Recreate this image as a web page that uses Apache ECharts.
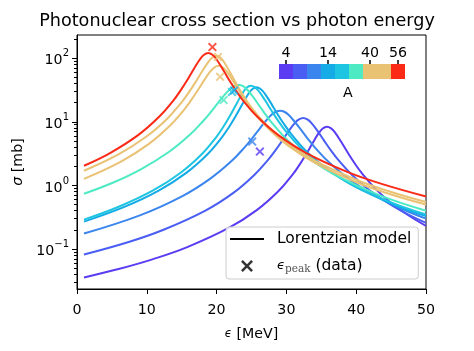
<!DOCTYPE html>
<html>
<head>
<meta charset="utf-8">
<title>Photonuclear cross section</title>
<script src="https://cdn.jsdelivr.net/npm/echarts@6/dist/echarts.min.js"></script>
<style>
html, body { margin: 0; padding: 0; background: #fff; }
#chart { width: 474px; height: 351px; }
</style>
</head>
<body>
<div id="chart"></div>
<script>
// nuclei in the colour bar, only some of them get a label
const massNumbers = [4, 7, 9, 14, 16, 27, 40, 52, 56]
const massTicks = [4, 14, 40, 56]
const massColors = ['#5b3cf2', '#4a5ef3', '#3b86ee', '#14abe6', '#1ec5e2', '#4deac4', '#e9c274', '#e9c274', '#fb2a16']

// Lorentzian model curves, [eps (MeV), sigma (mb)]
const curveA4 = [[1, 0.0356], [5.8, 0.0479], [10.8, 0.0688], [15.8, 0.107], [21.8, 0.216], [25.8, 0.412], [28.8, 0.80], [30.8, 1.44], [31.8, 2.05], [32.8, 3.06], [33.8, 4.73], [34.6, 6.57], [35.2, 7.85], [35.8, 8.4], [36.4, 7.90], [37.0, 6.71], [37.8, 4.94], [38.8, 3.26], [39.8, 2.21], [40.8, 1.56], [42.8, 0.875], [45.8, 0.453], [50, 0.23]]
const curveA7 = [[1, 0.082], [7.4, 0.129], [12.4, 0.201], [18.4, 0.402], [22.4, 0.762], [25.4, 1.46], [27.4, 2.54], [28.4, 3.53], [29.4, 5.07], [30.4, 7.36], [31.2, 9.56], [31.8, 10.9], [32.4, 11.5], [33.0, 10.9], [33.6, 9.56], [34.4, 7.36], [35.4, 5.07], [36.4, 3.53], [37.4, 2.54], [39.4, 1.46], [42.4, 0.762], [46.4, 0.402], [50, 0.258]]
const curveA9 = [[1, 0.175], [9.1, 0.341], [15.1, 0.679], [19.1, 1.28], [22.1, 2.39], [24.1, 4.07], [25.1, 5.51], [26.1, 7.62], [27.1, 10.5], [27.9, 13.0], [28.5, 14.4], [29.1, 15], [29.7, 14.4], [30.3, 12.9], [31.1, 10.3], [32.1, 7.46], [33.1, 5.36], [34.1, 3.94], [36.1, 2.31], [39.1, 1.23], [43.1, 0.652], [46.5, 0.43], [50, 0.30]]
const curveA14 = [[1, 0.27], [6.7, 0.455], [11.7, 0.828], [15.7, 1.59], [18.7, 3.09], [20.7, 5.59], [21.7, 8.01], [22.7, 12.1], [23.7, 19.0], [24.5, 26.9], [25.1, 32.5], [25.7, 35], [26.3, 32.9], [26.9, 27.8], [27.7, 20.4], [28.7, 13.4], [29.7, 9.07], [30.7, 6.41], [32.7, 3.59], [35.7, 1.86], [39.7, 0.972], [45.7, 0.483], [50, 0.33]]
const curveA16 = [[1, 0.29], [5.9, 0.457], [10.9, 0.832], [14.9, 1.60], [17.9, 3.12], [19.9, 5.65], [20.9, 8.14], [21.9, 12.35], [22.9, 19.6], [23.7, 28.0], [24.3, 34.3], [24.9, 37], [25.5, 34.9], [26.1, 29.8], [26.9, 22.2], [27.9, 14.8], [28.9, 10.1], [29.9, 7.16], [31.9, 4.04], [34.9, 2.09], [38.9, 1.10], [44.9, 0.547], [50, 0.35]]
const curveA27 = [[1, 0.74], [5.2, 1.11], [9.2, 1.81], [13.2, 3.39], [16.2, 6.32], [18.2, 10.7], [19.2, 14.4], [20.2, 19.8], [21.2, 27.0], [22.0, 33.1], [22.6, 36.7], [23.2, 38], [23.8, 36.3], [24.4, 31.9], [25.2, 24.9], [26.2, 17.4], [27.2, 12.2], [28.2, 8.86], [30.2, 5.10], [33.2, 2.68], [37.2, 1.42], [43.2, 0.71], [50, 0.40]]
const curveA40 = [[1, 1.27], [6.3, 2.37], [10.3, 4.50], [13.3, 8.66], [15.3, 15.3], [16.3, 21.5], [17.3, 31.3], [18.3, 46.5], [19.1, 61.9], [19.7, 71.9], [20.3, 76], [20.9, 71.6], [21.5, 61.0], [22.3, 45.1], [23.3, 29.9], [24.3, 20.3], [25.3, 14.4], [27.3, 8.09], [30.3, 4.19], [34.3, 2.20], [40.3, 1.09], [45, 0.72], [50, 0.50]]
const curveA52 = [[1, 1.70], [6, 3.10], [10, 5.92], [13, 11.4], [15, 20.4], [16, 28.8], [17, 42.4], [18, 64.2], [18.8, 87.1], [19.4, 102.6], [20, 109], [20.6, 101], [21.2, 82.8], [22, 58.1], [23, 36.7], [24, 24.2], [25, 16.8], [27, 9.28], [30, 4.75], [34, 2.48], [40, 1.23], [45, 0.79], [50, 0.55]]
const curveA56 = [[1, 2.04], [4.8, 3.26], [8.8, 6.23], [11.8, 12.1], [13.8, 21.6], [14.8, 30.7], [15.8, 45.5], [16.8, 69.7], [17.6, 95.6], [18.2, 113.5], [18.8, 121], [19.4, 113.5], [20.0, 95.6], [20.8, 69.7], [21.8, 45.5], [22.8, 30.7], [23.8, 21.6], [25.8, 12.1], [28.8, 6.23], [32.8, 3.26], [38.8, 1.62], [44, 1.03], [50, 0.671]]
const curves = [curveA4, curveA7, curveA9, curveA14, curveA16, curveA27, curveA40, curveA52, curveA56]

// measured peak positions (data), index into massNumbers
const peakEps = [19.4, 20.2, 20.5, 21.0, 22.2, 22.5, 25.1, 26.2]
const peakSigma = [150, 105, 51, 22, 29.5, 31, 4.9, 3.4]
const peakNucleus = [8, 7, 6, 5, 4, 3, 2, 0]

const yMajor = [0.1, 1, 10, 100]

const font = 'DejaVu Sans'
const fs = 14.2
const crossPath = 'path://M0,1.5L1.5,0L5,3.5L8.5,0L10,1.5L6.5,5L10,8.5L8.5,10L5,6.5L1.5,10L0,8.5L3.5,5Z'
const linePath = 'path://M0,0L34,0L34,2L0,2Z'

let minorTicks = []
for (let p = -2; p <= 2; p++) {
    for (let m = 2; m <= 9; m++) {
        minorTicks.push(m * Math.pow(10, p))
    }
}

let series = []
curves.forEach(function (pts, i) {
    series.push({
        type: 'line',
        name: 'A=' + massNumbers[i],
        data: pts,
        smooth: 0.4,
        symbol: 'none',
        lineStyle: { color: massColors[i], width: 2 },
        itemStyle: { color: massColors[i] }
    })
})
// legend only
series.push({
    type: 'line',
    name: 'Lorentzian model',
    data: [],
    symbol: 'none',
    lineStyle: { color: '#000', width: 2 },
    itemStyle: { color: '#000' }
})
series.push({
    type: 'scatter',
    name: 'peak',
    symbol: crossPath,
    symbolSize: 9,
    itemStyle: { color: '#000' },
    z: 5,
    data: peakEps.map(function (e, k) {
        return { value: [e, peakSigma[k]], itemStyle: { color: massColors[peakNucleus[k]] } }
    })
})
// colour bar
series.push({
    type: 'bar',
    xAxisIndex: 1,
    yAxisIndex: 2,
    barWidth: '100%',
    silent: true,
    z: 1,
    data: massNumbers.map(function (a, i) {
        return { value: 1, itemStyle: { color: massColors[i] } }
    })
})

const option = {
    animation: false,
    backgroundColor: '#fff',
    title: [{
        text: 'Photonuclear cross section vs photon energy',
        left: 'center',
        top: 7,
        textStyle: { fontFamily: font, fontSize: 17.6, fontWeight: 'normal', color: '#000' }
    }, {
        text: 'A',
        left: 338,
        top: 81,
        textStyle: { fontFamily: font, fontSize: fs, fontWeight: 'normal', color: '#000' }
    }],
    grid: [{
        left: 77, top: 35, right: 48, bottom: 62,
        show: true, borderColor: '#000', borderWidth: 1
    }, {
        left: 279, top: 64, width: 126, height: 15
    }],
    legend: {
        orient: 'vertical',
        left: 226,
        top: 227,
        padding: [4, 7, 4, 4],
        itemGap: 11,
        itemWidth: 34,
        itemHeight: 12,
        backgroundColor: 'rgba(255,255,255,0.8)',
        borderColor: '#cccccc',
        borderWidth: 1,
        borderRadius: 3,
        data: [{ name: 'Lorentzian model', icon: linePath }, { name: 'peak', icon: crossPath }],
        formatter: function (n) {
            return n === 'peak' ? '{e|ϵ}{p|peak} (data)' : n
        },
        textStyle: {
            fontFamily: font, fontSize: 15.5, color: '#000', padding: [0, 0, 0, 8],
            rich: {
                e: { fontFamily: font, fontSize: 13, fontStyle: 'italic', color: '#000' },
                p: { fontFamily: 'DejaVu Serif', fontSize: 10.5, color: '#555', padding: [7, 0, 0, 0] }
            }
        }
    },
    xAxis: [{
        type: 'value',
        min: 0, max: 50, interval: 10,
        name: '{e|ϵ} [MeV]',
        nameLocation: 'middle',
        nameGap: 38,
        nameTextStyle: {
            fontFamily: font, fontSize: fs, color: '#000',
            rich: { e: { fontFamily: font, fontSize: 11.5, fontStyle: 'italic', color: '#000' } }
        },
        axisLine: { lineStyle: { color: '#000', width: 1 } },
        axisTick: { length: 5, lineStyle: { color: '#000' } },
        axisLabel: { margin: 14, fontFamily: font, fontSize: fs, color: '#000' },
        splitLine: { show: false }
    }, {
        type: 'category',
        gridIndex: 1,
        position: 'top',
        data: massNumbers.map(String),
        axisLine: { show: false, onZero: false },
        axisTick: {
            show: true, alignWithLabel: true, length: 4, lineStyle: { color: '#000', width: 1.5 },
            interval: function (i, v) { return massTicks.indexOf(+v) >= 0 }
        },
        axisLabel: {
            margin: 4, fontFamily: font, fontSize: fs, color: '#000',
            interval: function (i, v) { return massTicks.indexOf(+v) >= 0 }
        },
        splitLine: { show: false }
    }],
    yAxis: [{
        type: 'log',
        logBase: 10,
        min: 0.0235, max: 232,
        name: '{s|σ} [mb]',
        nameLocation: 'middle',
        nameGap: 34,
        nameTextStyle: {
            fontFamily: font, fontSize: fs, color: '#000',
            rich: { s: { fontFamily: font, fontSize: fs, fontStyle: 'italic', color: '#000' } }
        },
        axisLine: { show: true, lineStyle: { color: '#000', width: 1 } },
        axisTick: { length: 5, lineStyle: { color: '#000' }, customValues: yMajor },
        axisLabel: {
            margin: 8,
            customValues: yMajor,
            formatter: function (v) {
                const p = Math.round(Math.log10(v))
                return '{b|10}{s|' + String(p).replace('-', '−') + '}'
            },
            rich: {
                b: { fontFamily: font, fontSize: fs, color: '#000', verticalAlign: 'bottom', lineHeight: 19 },
                s: { fontFamily: font, fontSize: 10, color: '#000', verticalAlign: 'top', lineHeight: 19 }
            }
        },
        splitLine: { show: false }
    }, {
        type: 'log',
        logBase: 10,
        min: 0.0235, max: 232,
        position: 'left',
        axisLine: { show: false },
        axisTick: { length: 3, lineStyle: { color: '#000' }, customValues: minorTicks },
        axisLabel: { show: false },
        splitLine: { show: false }
    }, {
        type: 'value',
        gridIndex: 1,
        min: 0, max: 1,
        show: false
    }],
    series: series
}

const chart = echarts.init(document.getElementById('chart'))
chart.setOption(option)
</script>
</body>
</html>
